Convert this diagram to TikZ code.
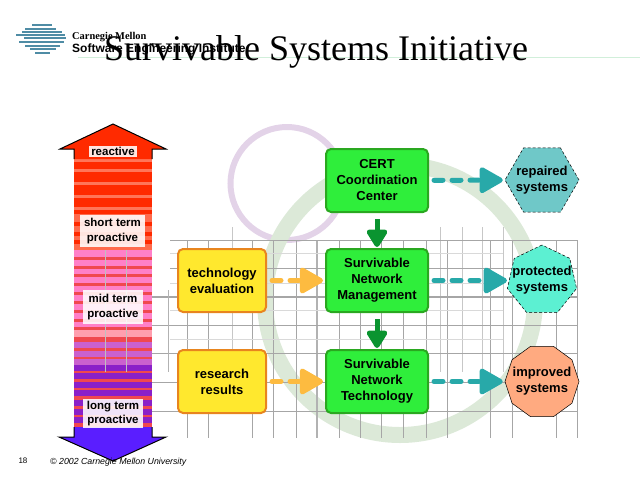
\documentclass[tikz,border=0pt]{standalone}
\usepackage{fontspec}
\setmainfont{Liberation Sans}
\newfontfamily\titlefont{Liberation Serif}
\usepackage{xcolor}
\usepackage{tikz}
\usetikzlibrary{arrows.meta}
\usetikzlibrary{shapes.geometric}

\definecolor{cGreen}{HTML}{2FEE3B}
\definecolor{cGreenEdge}{HTML}{2AA820}
\definecolor{cYellow}{HTML}{FFE82E}
\definecolor{cYellowEdge}{HTML}{E8851E}
\definecolor{cTeal}{HTML}{28A9A9}
\definecolor{cAmber}{HTML}{FDBB40}
\definecolor{cDark}{HTML}{0A9430}
\definecolor{cRed}{HTML}{FF2A00}
\definecolor{cPink}{HTML}{FF80C8}
\definecolor{cStripe}{HTML}{F0484F}
\definecolor{cPurple}{HTML}{8A20C8}
\definecolor{cBlue}{HTML}{5A1EFF}
\definecolor{cLogo}{HTML}{4F8CA5}
\definecolor{cRingP}{HTML}{E3D3E8}
\definecolor{cRingG}{HTML}{DCE9D8}
\definecolor{cRepaired}{HTML}{6FC8C8}
\definecolor{cProtected}{HTML}{5CF0D2}
\definecolor{cImproved}{HTML}{FFAA80}

\tikzset{
  boxtext/.style={font=\fontsize{13}{16}\selectfont\bfseries,align=center},
  greenbox/.style={boxtext,draw=cGreenEdge,fill=cGreen,line width=2pt,rounded corners=5pt,minimum width=102pt,minimum height=63pt,inner sep=0pt},
  yellowbox/.style={boxtext,draw=cYellowEdge,fill=cYellow,line width=2pt,rounded corners=5pt,minimum width=88pt,minimum height=63pt,inner sep=0pt},
  result/.style={regular polygon,inner sep=0pt,draw=black,line width=0.5pt,label distance=0pt},
  resulttext/.style={boxtext,inner sep=0pt,solid},
  levellabel/.style={font=\fontsize{11.5}{14.5}\selectfont\bfseries,align=center,fill=white,fill opacity=0.88,text opacity=1,inner sep=0pt},
  flow/.style={line width=5pt,line cap=round,dash pattern=on 9pt off 9pt,shorten <=5pt,shorten >=2pt},
  telltip/.style={-{Triangle[length=26pt,width=28pt,round]}},
  downtip/.style={-{Triangle[length=20pt,width=23pt,round]},line width=5pt,shorten <=6pt,shorten >=1pt}
}

\begin{document}
\begin{tikzpicture}[x=1pt,y=-1pt]
    \useasboundingbox (0,0) rectangle (640,480);

    % rings
    \draw[line width=6pt,color=cRingP] (287,183.5) circle (56.5);
    \draw[line width=16pt,color=cRingG] (400,300) circle (135);

    % grid
    \foreach \a in {232,440,462,482,503}{
      \draw[black!22,line width=0.6pt] (\a,227) to (\a,372);
    };
    \foreach \a in {187,208,252,273,296,339,360,381,403,426,447,490,512,556,577}{
      \draw[black!35,line width=0.7pt] (\a,240) to (\a,438);
    };
    \draw[black!30,line width=1.4pt] (317,240) to (317,438);
    \foreach \a in {253,283,310,339}{
      \draw[black!15,line width=0.6pt] (170,\a) to (503,\a);
    };
    \foreach \a in {325,353,382,411}{
      \draw[black!35,line width=0.7pt] (145,\a) to (577,\a);
    };
    \draw[black!35,line width=0.7pt] (170,240) to (577,240);
    \draw[black!35,line width=0.7pt] (170,268) to (577,268);
    \draw[black!35,line width=1.2pt] (145,297) to (577,297);
    \draw[black!30,line width=0.6pt] (168,290) to (168,372);

    % big arrow
    \fill[cRed] (74,159) rectangle (152,250);
    \foreach \a in {159,169,182,195,207}{
      \fill[cRed!65!white] (74,\a) rectangle (152,\a+2.5);
    };
    \fill[cRed!70!white] (74,214) rectangle (152,250);
    \foreach \a in {222,232,240}{
      \fill[cRed] (74,\a) rectangle (152,\a+4);
    };
    \fill[cPink] (74,250) rectangle (152,332);
    \foreach \a in {257,266,274,283,292,301,310,319}{
      \fill[cStripe] (74,\a) rectangle (152,\a+3);
    };
    \fill[cPink!60!cRed!60!white] (74,327) rectangle (152,342);
    \fill[cStripe] (74,327) rectangle (152,330);
    \fill[cStripe] (74,337) rectangle (152,340);
    \fill[cStripe] (74,340) rectangle (152,427);
    \foreach \a in {342,351,359}{
      \fill[cPurple!50!cPink!90!white] (74,\a) rectangle (152,\a+6);
    };
    \foreach \a in {365,373,382,390,400,409,417}{
      \fill[cPurple] (74,\a) rectangle (152,\a+6);
    };
    \draw[fill=cRed,line width=1pt] (74,159) -- (74,149) -- (60,149) -- (113,124) -- (166,149) -- (152,149) -- (152,159);
    \draw[fill=cBlue,line width=1pt] (74,427) -- (74,437) -- (59,437) -- (113,461) -- (166,437) -- (152,437) -- (152,427);
    \draw[black!25,line width=0.5pt] (105,250) to (105,372);
    \draw[black!25,line width=0.5pt] (126,250) to (126,372);

    \node[levellabel,minimum width=48pt,minimum height=11pt] (reactive) at (113,151.5) {reactive};
    \node[levellabel,minimum width=65pt,minimum height=32pt] (shortterm) at (112.5,231) {short term\\proactive};
    \node[levellabel,minimum width=60pt,minimum height=34pt] (midterm) at (113,307) {mid term\\proactive};
    \node[levellabel,minimum width=60pt,minimum height=29pt] (longterm) at (113,413.5) {long term\\proactive};

    % boxes
    \node[greenbox] (cert) at (377,180.5) {CERT\\Coordination\\Center};
    \node[greenbox] (management) at (377,280.5) {Survivable\\Network\\Management};
    \node[greenbox] (technology) at (377,381.5) {Survivable\\Network\\Technology};
    \node[yellowbox] (evaluation) at (222,280.5) {technology\\evaluation};
    \node[yellowbox] (research) at (222,381.5) {research\\results};

    \node[result,regular polygon sides=6,minimum size=74pt,fill=cRepaired,densely dashed,label={[resulttext]center:{repaired\\systems}}] (repaired) at (542,180) {};
    \node[result,regular polygon sides=7,minimum size=71pt,fill=cProtected,densely dashed,label={[resulttext]center:{protected\\systems}}] (protected) at (542,280.5) {};
    \node[result,regular polygon sides=10,minimum size=74pt,fill=cImproved,label={[resulttext]center:{improved\\systems}}] (improved) at (542,381.5) {};

    % connectors
    \draw[flow,telltip,cTeal] (cert) -- (repaired);
    \draw[flow,telltip,cTeal] (management) -- (protected);
    \draw[flow,telltip,cTeal] (technology) -- (improved);
    \draw[flow,telltip,cAmber] (evaluation) -- (management);
    \draw[flow,telltip,cAmber] (research) -- (technology);
    \draw[downtip,cDark] (cert) -- (management);
    \draw[downtip,cDark] (management) -- (technology);

    % header
    \foreach \a/\l/\r in {24/32/52,28/25/56,31/22/62,34/16/65,37/24/66,41/19/64,45/25/60,48/30/56,52/35/50}{
      \fill[cLogo] (\l,\a) rectangle (\r,\a+2.4);
    };
    \draw[cyan!20!green!18,line width=1pt] (78,57) to (640,57);
    \node[font=\titlefont\bfseries\fontsize{10.4}{12}\selectfont,anchor=west,inner sep=0pt] (cmu) at (72,37) {Carnegie Mellon};
    \node[font=\bfseries\fontsize{12}{14}\selectfont,anchor=west,inner sep=0pt] (sei) at (72,49) {Software Engineering Institute};
    \node[font=\titlefont\fontsize{36}{40}\selectfont,anchor=base west,inner sep=0pt] (title) at (104,60) {Survivable Systems Initiative};
    \node[font=\fontsize{8}{10}\selectfont,inner sep=0pt] (page) at (23,461) {18};
    \node[font=\itshape\fontsize{8.8}{10}\selectfont,anchor=west,inner sep=0pt] (copyright) at (50,462.5) {© 2002 Carnegie Mellon University};
  \end{tikzpicture}
\end{document}
